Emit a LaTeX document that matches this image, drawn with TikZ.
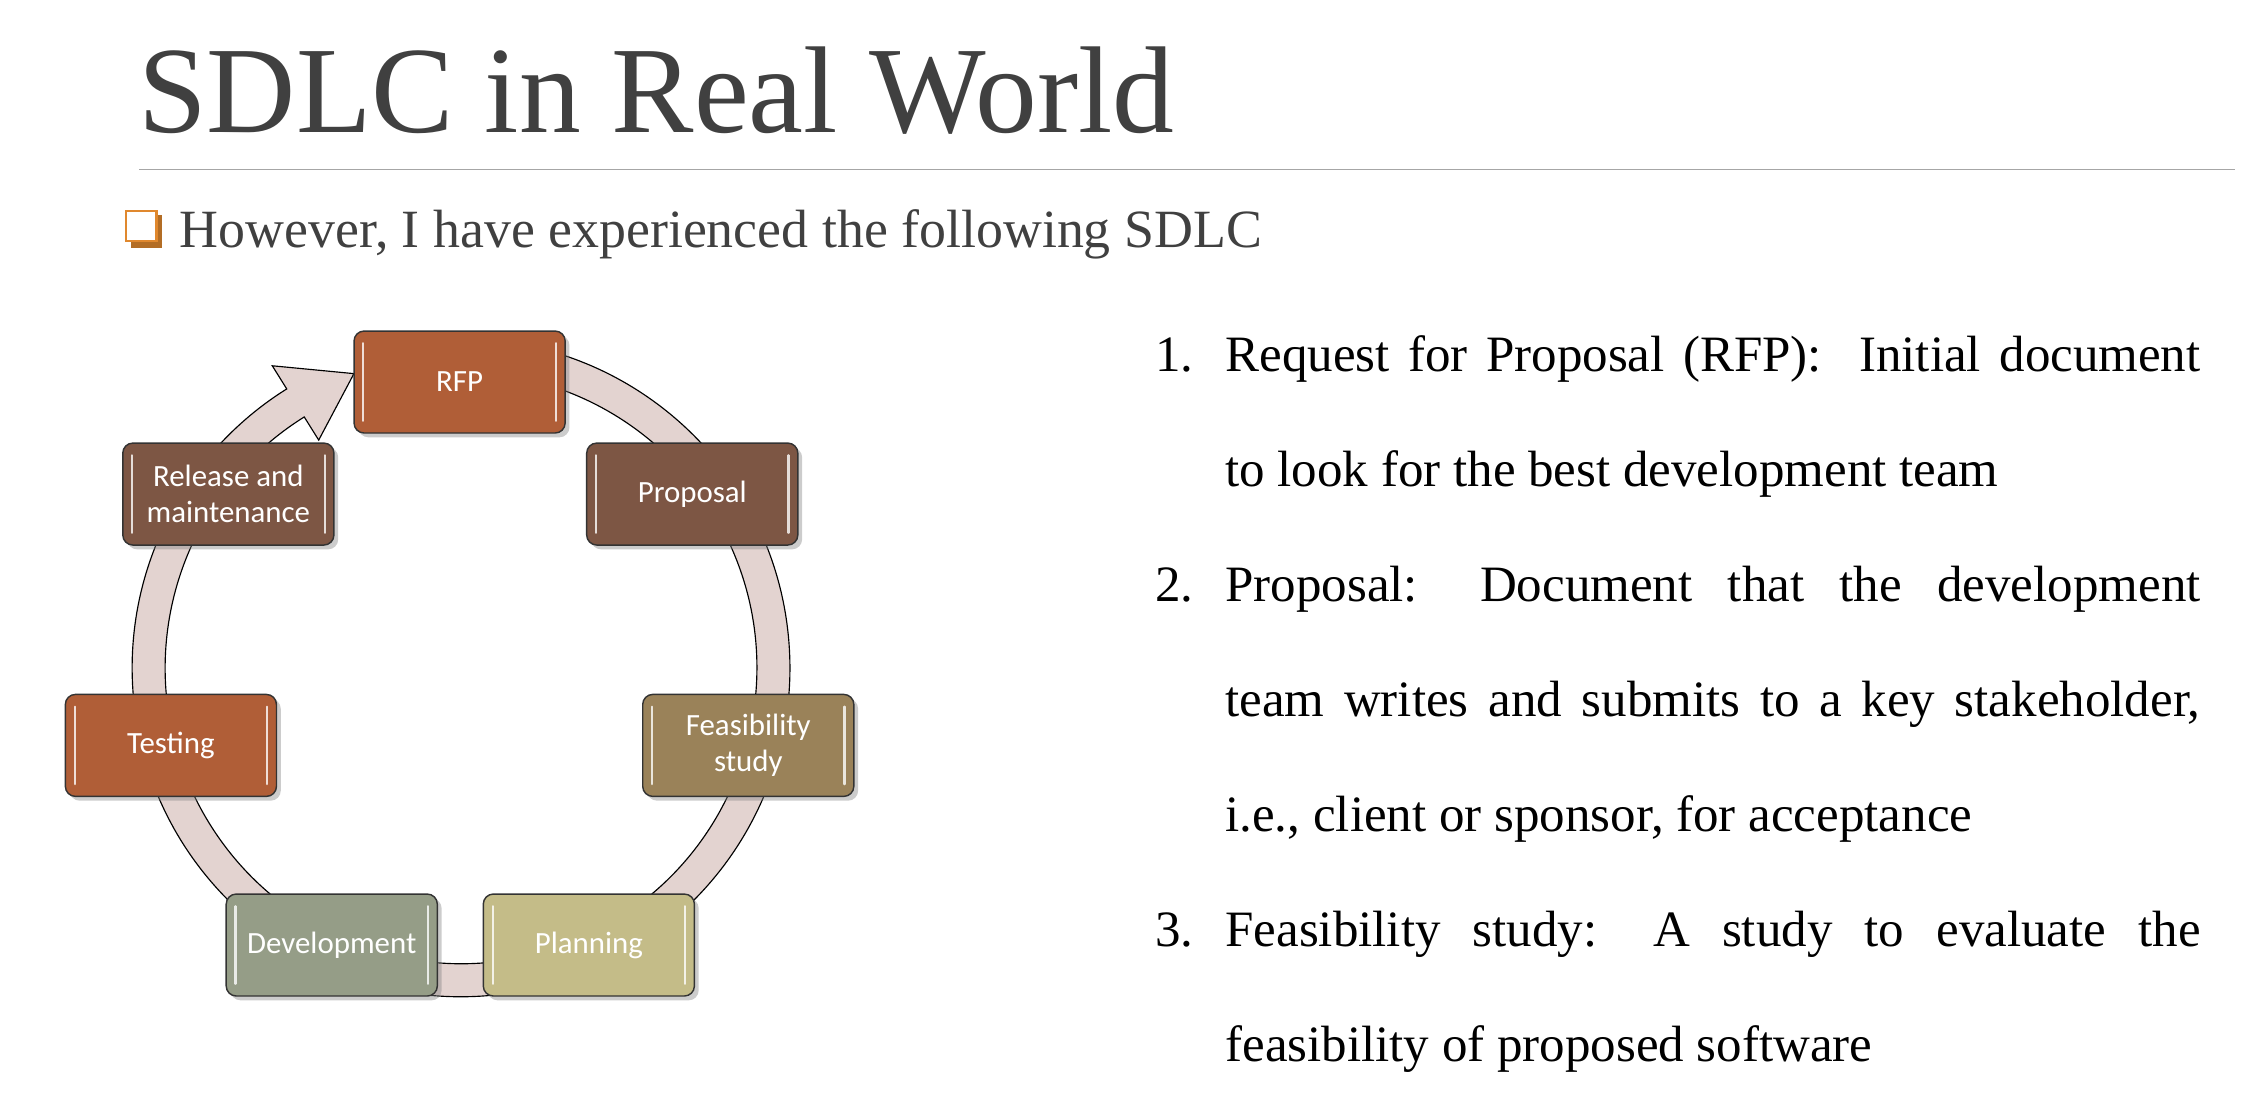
\documentclass[tikz,border=0pt]{standalone}
\usepackage{fontspec}
\setmainfont{Liberation Serif}
\newfontfamily\boxfont{Carlito}
\usetikzlibrary{shadows,calc}
\definecolor{ringc}{HTML}{E3D3D0}
\definecolor{cA}{HTML}{B05E37}
\definecolor{cB}{HTML}{7D5644}
\definecolor{cC}{HTML}{9A8259}
\definecolor{cD}{HTML}{C4BC88}
\definecolor{cE}{HTML}{959D87}
\definecolor{txtg}{HTML}{404040}
\definecolor{orng}{HTML}{E0882E}
\tikzset{
 stage/.style={draw=black!80, line width=1pt, rounded corners=7pt, minimum width=147pt, minimum height=71pt,
  text=white, align=center, font=\boxfont\fontsize{21.5}{25}\selectfont, drop shadow={shadow xshift=3pt,shadow yshift=-3pt,opacity=0.4}},
 hl/.style={white, line width=1.5pt, opacity=0.8, line cap=round},
 jl/.style={anchor=base west, inner sep=0pt, font=\fontsize{35.5}{38}\selectfont}
}
\newcommand{\jline}[1]{\makebox[679pt][s]{#1}}
\begin{document}
\begin{tikzpicture}[x=1pt,y=1pt]
\useasboundingbox (0,0) rectangle (1568,-778);
% title
\node[anchor=base west, inner sep=0pt, text=txtg, font=\fontsize{86}{90}\selectfont] (title) at (96,-92) {SDLC in Real World};
\draw[black!35, line width=1pt] (97,-118) -- (1556,-118);
% bullet
\fill[orng!80!black] (91,-150) rectangle (113,-173);
\draw[orng, fill=white, line width=1.5pt] (88,-147) rectangle (109,-168);
\node[anchor=base west, inner sep=0pt, text=txtg, font=\fontsize{37.5}{40}\selectfont] (bul) at (125,-172) {However, I have experienced the following SDLC};
% ring
\coordinate (C) at (321,-465);
\draw[black, line width=0.8pt, fill=ringc]
 ($(C)+(95:229)$) arc[start angle=95, end angle=-238, radius=229]
 -- ($(C)+(122:248)$) -- ($(C)+(110:218)$) -- ($(C)+(122:187)$) -- ($(C)+(122:206)$)
 arc[start angle=-238, end angle=95, radius=206] -- cycle;
% boxes
\node[stage, fill=cA] (rfp) at (320,-266) {RFP};
\node[stage, fill=cB] (prop) at (482,-344) {Proposal};
\node[stage, fill=cC] (feas) at (521,-519) {Feasibility\\study};
\node[stage, fill=cD] (plan) at (410,-658) {Planning};
\node[stage, fill=cE] (dev) at (231,-658) {Development};
\node[stage, fill=cA] (test) at (119,-519) {Testing};
\node[stage, fill=cB] (rel) at (159,-344) {Release and\\maintenance};
\foreach \n in {rfp,prop,feas,plan,dev,test,rel}{
 \draw[hl] ([xshift=7pt,yshift=-9pt]\n.north west) -- ([xshift=7pt,yshift=9pt]\n.south west);
 \draw[hl] ([xshift=-7pt,yshift=-9pt]\n.north east) -- ([xshift=-7pt,yshift=9pt]\n.south east);
}
% list
\node[jl] (n1) at (804,-259) {1.};
\node[jl] (l1) at (853,-259) {\jline{Request for Proposal (RFP):\ \ Initial document}};
\node[jl] (l2) at (853,-339) {to look for the best development team};
\node[jl] (n2) at (804,-419) {2.};
\node[jl] (l3) at (853,-419) {\jline{Proposal: Document that the development}};
\node[jl] (l4) at (853,-499) {\jline{team writes and submits to a key stakeholder,}};
\node[jl] (l5) at (853,-579) {i.e., client or sponsor, for acceptance};
\node[jl] (n3) at (804,-659) {3.};
\node[jl] (l6) at (853,-659) {\jline{Feasibility study: A study to evaluate the}};
\node[jl] (l7) at (853,-739) {feasibility of proposed software};
\end{tikzpicture}
\end{document}
